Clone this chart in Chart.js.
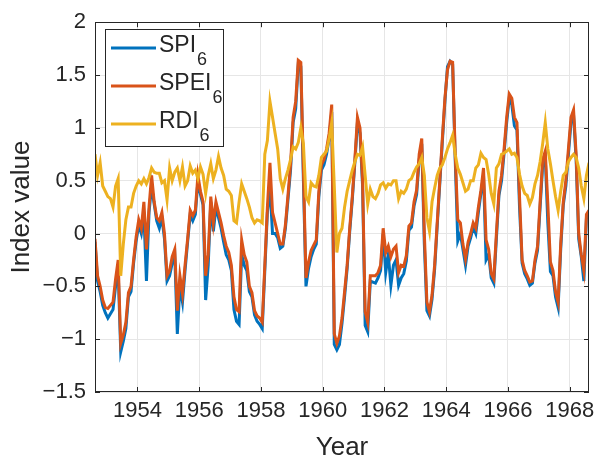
<!DOCTYPE html>
<html>
<head>
<meta charset="utf-8">
<script src="https://cdn.jsdelivr.net/npm/chart.js@4.4.1/dist/chart.umd.min.js"></script>
<style>
  html, body { margin: 0; padding: 0; background: #fff; }
</style>
</head>
<body>
<canvas id="graph" width="603" height="471"></canvas>
<script>
// monthly series, first month = Aug 1952
var startYear = 1952.625;

var spi6 = [
  -0.08, -0.45, -0.55, -0.68, -0.75, -0.80, -0.76, -0.72, -0.50, -0.35,
  -1.12, -1.02, -0.90, -0.60, -0.55, -0.28, -0.07, 0.08, 0.00, 0.18,
  -0.45, 0.20, 0.45, 0.28, 0.12, 0.05, 0.15, -0.05, -0.45, -0.40,
  -0.28, -0.20, -0.95, -0.50, -0.65, -0.35, -0.08, 0.18, 0.12, 0.18,
  0.50, 0.37, 0.27, -0.63, -0.30, 0.30, 0.02, 0.25, 0.15, 0.05,
  -0.08, -0.20, -0.25, -0.35, -0.72, -0.83, -0.86, -0.20, -0.30, -0.35,
  -0.55, -0.60, -0.77, -0.83, -0.86, -0.90, -0.35, 0.20, 0.44, 0.00,
  0.00, -0.04, -0.14, -0.12, 0.05, 0.32, 0.60, 1.05, 1.18, 1.60,
  1.58, 0.50, -0.50, -0.33, -0.22, -0.15, -0.10, 0.35, 0.60, 0.65,
  0.75, 0.90, 1.15, -1.05, -1.10, -1.05, -0.85, -0.60, -0.33, 0.02,
  0.32, 0.67, 1.05, 0.95, 0.45, -0.87, -0.93, -0.45, -0.46, -0.47,
  -0.42, -0.35, 0.00, -0.37, -0.20, -0.49, -0.30, -0.25, -0.49, -0.42,
  -0.38, -0.26, 0.03, 0.06, 0.26, 0.37, 0.70, 0.85, -0.10, -0.73,
  -0.78, -0.62, -0.34, 0.07, 0.47, 0.87, 1.25, 1.58, 1.63, 1.60,
  0.70, -0.07, 0.00, -0.15, -0.30, -0.12, -0.04, 0.06, 0.00, 0.20,
  0.38, 0.55, -0.25, -0.20, -0.42, -0.47, -0.05, 0.36, 0.50, 0.76,
  1.05, 1.28, 1.22, 1.02, 0.98, 0.25, -0.28, -0.38, -0.43, -0.49,
  -0.47, -0.28, -0.16, 0.25, 0.65, 0.72, 0.10, -0.36, -0.40, -0.60,
  -0.70, -0.15, 0.27, 0.45, 0.75, 1.05, 1.12, 0.70, -0.05, -0.22,
  -0.45, 0.14, 0.18
];

var spei6 = [
  -0.05, -0.40, -0.50, -0.63, -0.70, -0.71, -0.68, -0.65, -0.43, -0.25,
  -1.04, -0.96, -0.84, -0.56, -0.50, -0.25, -0.03, 0.13, 0.05, 0.30,
  -0.15, 0.25, 0.55, 0.30, 0.15, 0.12, 0.20, 0.00, -0.40, -0.35,
  -0.22, -0.15, -0.73, -0.40, -0.57, -0.30, -0.05, 0.22, 0.17, 0.22,
  0.55, 0.40, 0.30, -0.40, -0.20, 0.35, 0.10, 0.30, 0.20, 0.10,
  -0.02, -0.12, -0.18, -0.30, -0.60, -0.72, -0.74, -0.06, -0.20, -0.27,
  -0.50, -0.56, -0.73, -0.78, -0.80, -0.84, -0.30, 0.25, 0.67, 0.20,
  0.10, 0.00, -0.10, -0.10, 0.08, 0.36, 0.65, 1.10, 1.25, 1.64,
  1.62, 0.60, -0.42, -0.27, -0.16, -0.11, -0.06, 0.40, 0.65, 0.70,
  0.80, 0.95, 1.22, -0.95, -1.04, -0.97, -0.80, -0.55, -0.30, 0.05,
  0.35, 0.70, 1.10, 1.00, 0.50, -0.74, -0.84, -0.40, -0.40, -0.40,
  -0.37, -0.30, 0.05, -0.18, -0.12, -0.22, -0.15, -0.12, -0.37, -0.30,
  -0.31, -0.21, 0.07, 0.10, 0.30, 0.41, 0.75, 0.90, 0.00, -0.65,
  -0.74, -0.58, -0.30, 0.10, 0.50, 0.90, 1.28, 1.55, 1.63, 1.62,
  0.75, 0.13, 0.10, -0.10, -0.24, -0.08, 0.00, 0.10, 0.05, 0.25,
  0.41, 0.62, -0.06, -0.15, -0.38, -0.43, 0.00, 0.40, 0.55, 0.80,
  1.10, 1.32, 1.28, 1.10, 1.05, 0.35, -0.25, -0.35, -0.40, -0.46,
  -0.45, -0.25, -0.12, 0.30, 0.70, 0.78, 0.28, -0.27, -0.35, -0.55,
  -0.65, -0.10, 0.30, 0.50, 0.80, 1.10, 1.17, 0.75, 0.00, -0.20,
  -0.35, 0.18, 0.22
];

var rdi6 = [
  0.75, 0.55, 0.67, 0.45, 0.40, 0.35, 0.33, 0.25, 0.45, 0.52,
  -0.40, -0.10, 0.13, 0.25, 0.25, 0.38, 0.45, 0.50, 0.47, 0.52,
  0.47, 0.53, 0.62, 0.58, 0.57, 0.57, 0.48, 0.50, 0.32, 0.62,
  0.50, 0.58, 0.62, 0.50, 0.63, 0.45, 0.50, 0.64, 0.57, 0.60,
  0.52, 0.63, 0.56, 0.38, 0.55, 0.66, 0.52, 0.60, 0.73, 0.62,
  0.55, 0.42, 0.40, 0.36, 0.12, 0.10, 0.30, 0.47, 0.40, 0.33,
  0.25, 0.15, 0.10, 0.13, 0.12, 0.10, 0.75, 0.88, 1.25, 1.10,
  0.95, 0.80, 0.52, 0.42, 0.52, 0.60, 0.70, 0.82, 0.80, 0.86,
  1.00, 0.85, 0.35, 0.30, 0.48, 0.45, 0.44, 0.55, 0.72, 0.75,
  0.78, 0.90, 1.05, 0.45, -0.18, 0.00, 0.05, 0.25, 0.40, 0.50,
  0.60, 0.68, 0.75, 0.74, 0.82, 0.55, 0.28, 0.42, 0.35, 0.33,
  0.38, 0.46, 0.48, 0.43, 0.47, 0.46, 0.50, 0.50, 0.33, 0.40,
  0.38, 0.42, 0.50, 0.52, 0.58, 0.63, 0.66, 0.72, 0.55, 0.15,
  0.02, 0.30, 0.43, 0.55, 0.62, 0.65, 0.72, 0.80, 0.86, 0.93,
  0.75, 0.62, 0.56, 0.48, 0.40, 0.42, 0.50, 0.50, 0.62, 0.65,
  0.76, 0.72, 0.70, 0.56, 0.38, 0.28, 0.62, 0.66, 0.75, 0.76,
  0.78, 0.80, 0.75, 0.76, 0.72, 0.56, 0.45, 0.38, 0.36, 0.28,
  0.34, 0.47, 0.55, 0.68, 0.85, 1.05, 0.80, 0.66, 0.50, 0.35,
  0.22, 0.40, 0.55, 0.58, 0.68, 0.72, 0.75, 0.72, 0.62, 0.45,
  0.33, 0.55, 0.67
];

var xTicks = [1954, 1956, 1958, 1960, 1962, 1964, 1966, 1968];
var yTicks = [-1.5, -1, -0.5, 0, 0.5, 1, 1.5, 2];

var names = ['SPI', 'SPEI', 'RDI'];
var colors = ['#0072BD', '#D95319', '#EDB120'];

var years = spi6.map(function (v, i) { return startYear + i / 12; });

function pts(arr) {
  return arr.map(function (v, i) { return { x: years[i], y: v }; });
}

var axisColor = '#262626';
var font = 'Liberation Sans, Arial, Helvetica, sans-serif';

// box, inward ticks and legend with subscripts
var matlabBits = {
  id: 'matlabBits',
  afterDraw: function (chart) {
    var ctx = chart.ctx;
    var a = chart.chartArea;
    var xs = chart.scales.x, ys = chart.scales.y;
    ctx.save();
    ctx.strokeStyle = axisColor;
    ctx.lineWidth = 1;
    ctx.beginPath();
    xTicks.forEach(function (t) {
      var px = Math.round(xs.getPixelForValue(t)) + 0.5;
      ctx.moveTo(px, a.bottom); ctx.lineTo(px, a.bottom - 5);
      ctx.moveTo(px, a.top); ctx.lineTo(px, a.top + 5);
    });
    yTicks.forEach(function (t) {
      var py = Math.round(ys.getPixelForValue(t)) + 0.5;
      ctx.moveTo(a.left, py); ctx.lineTo(a.left + 5, py);
      ctx.moveTo(a.right, py); ctx.lineTo(a.right - 5, py);
    });
    ctx.stroke();
    ctx.strokeRect(Math.round(a.left) + 0.5, Math.round(a.top) + 0.5,
      Math.round(a.right - a.left) - 1, Math.round(a.bottom - a.top) - 1);

    // legend
    var bx = 105, by = 29, bw = 118, bh = 117;
    ctx.fillStyle = '#fff';
    ctx.fillRect(bx, by, bw, bh);
    ctx.strokeRect(bx + 0.5, by + 0.5, bw, bh);
    var rows = [48, 86, 124];
    names.forEach(function (n, i) {
      ctx.strokeStyle = colors[i];
      ctx.lineWidth = 3;
      ctx.beginPath();
      ctx.moveTo(111, rows[i]); ctx.lineTo(156, rows[i]);
      ctx.stroke();
      ctx.fillStyle = axisColor;
      ctx.textBaseline = 'middle';
      ctx.textAlign = 'left';
      ctx.font = '23px ' + font;
      ctx.fillText(n, 159, rows[i] - 2);
      var w = ctx.measureText(n).width;
      ctx.font = '18px ' + font;
      ctx.fillText('6', 159 + w + 1, rows[i] + 12);
    });
    ctx.restore();
  }
};

new Chart(document.getElementById('graph'), {
  type: 'line',
  plugins: [matlabBits],
  data: {
    datasets: names.map(function (n, i) {
      return {
        label: n + '6',
        data: pts([spi6, spei6, rdi6][i]),
        borderColor: colors[i],
        backgroundColor: colors[i],
        borderWidth: 3,
        pointRadius: 0,
        tension: 0,
        order: 3 - i
      };
    })
  },
  options: {
    responsive: false,
    animation: false,
    layout: { padding: { top: 17, right: 14, left: 0, bottom: 0 } },
    scales: {
      x: {
        type: 'linear',
        min: startYear,
        max: startYear + (spi6.length - 1) / 12,
        afterBuildTicks: function (s) { s.ticks = xTicks.map(function (v) { return { value: v }; }); },
        afterFit: function (s) { s.height = 79; },
        ticks: {
          color: axisColor,
          padding: 6,
          maxRotation: 0,
          autoSkip: false,
          font: { family: font, size: 22 },
          callback: function (v) { return String(v); }
        },
        grid: { color: '#e6e6e6', drawTicks: false },
        border: { display: false },
        title: {
          display: true,
          text: 'Year',
          color: axisColor,
          font: { family: font, size: 26 },
          padding: { top: 0, bottom: 8 }
        }
      },
      y: {
        min: -1.5,
        max: 2,
        afterBuildTicks: function (s) { s.ticks = yTicks.map(function (v) { return { value: v }; }); },
        afterFit: function (s) { s.width = 95; },
        ticks: {
          color: axisColor,
          padding: 9,
          font: { family: font, size: 22 },
          callback: function (v) { return v < 0 ? '\u2212' + Math.abs(v) : String(v); }
        },
        grid: { color: '#e6e6e6', drawTicks: false },
        border: { display: false },
        title: {
          display: true,
          text: 'Index value',
          color: axisColor,
          font: { family: font, size: 26 },
          padding: { top: 6, bottom: 0 }
        }
      }
    },
    plugins: {
      legend: { display: false },
      tooltip: { enabled: false }
    }
  }
});
</script>
</body>
</html>
